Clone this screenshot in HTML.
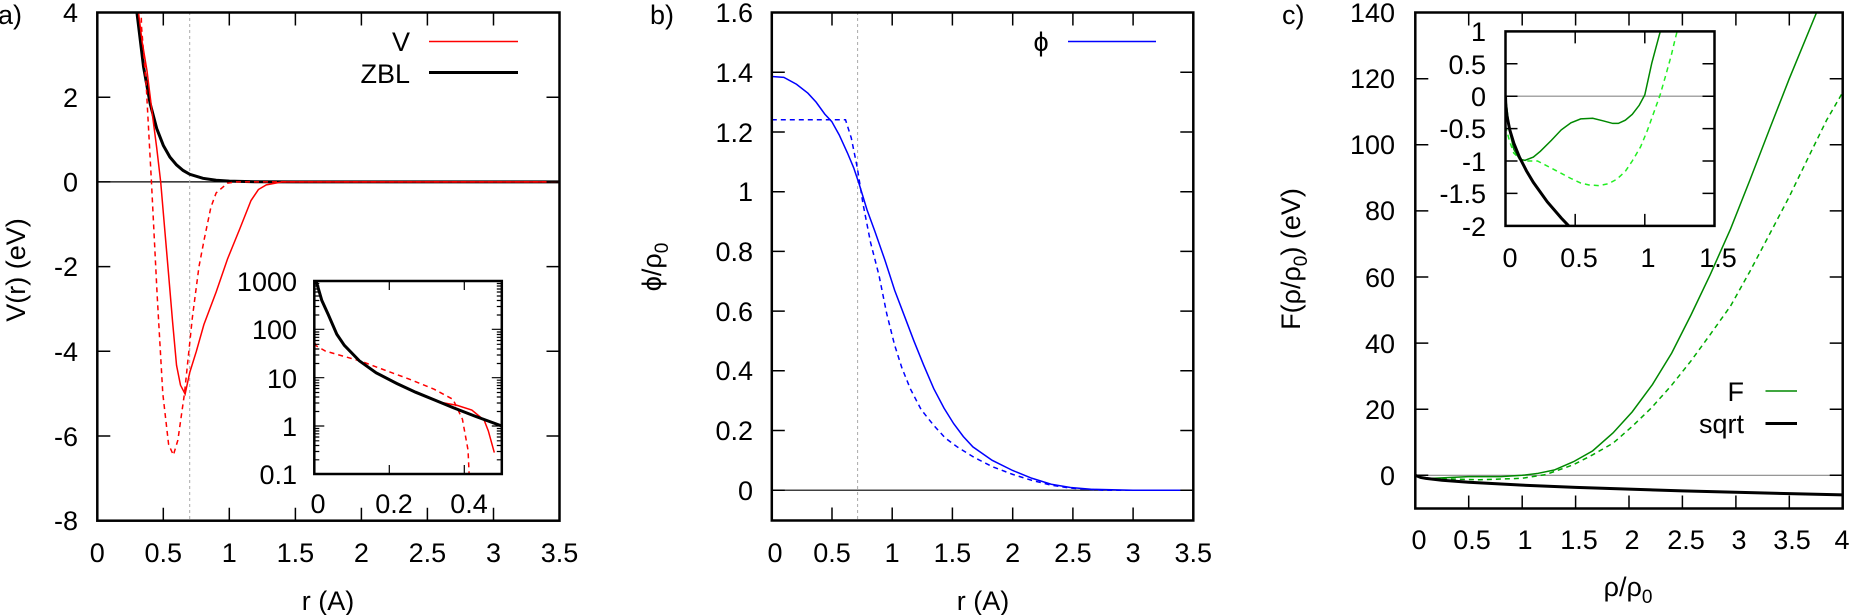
<!DOCTYPE html>
<html><head><meta charset="utf-8"><style>
html,body{margin:0;padding:0;background:#fff;}
svg{display:block;font-family:"Liberation Sans",sans-serif;}
.t{font-size:27px;fill:#000;}
.ns{vector-effect:non-scaling-stroke;fill:none;}
</style></head><body>
<svg width="1850" height="615" viewBox="0 0 1850 615" xmlns="http://www.w3.org/2000/svg">
<defs>
<clipPath id="ca"><rect x="97.3" y="12.5" width="462.2" height="508.2"/></clipPath>
<clipPath id="cai"><rect x="314.3" y="281" width="187.5" height="193"/></clipPath>
<clipPath id="cb"><rect x="771.8" y="12.5" width="421.5" height="508"/></clipPath>
<clipPath id="cc"><rect x="1415.3" y="12.5" width="427.4" height="496"/></clipPath>
<clipPath id="cci"><rect x="1505.5" y="31.4" width="209" height="194.5"/></clipPath>
</defs>

<!-- ===== Panel a ===== -->
<text class="t" x="-2" y="24">a)</text>
<g clip-path="url(#ca)">
<line x1="97" y1="181.9" x2="560" y2="181.9" stroke="#000" stroke-width="1.2"/>
<line x1="189.7" y1="12" x2="189.7" y2="521" stroke="#aaa" stroke-width="1" stroke-dasharray="3,3"/>
<g transform="translate(97.3,181.9) scale(132.06,-42.35)">
<polyline class="ns" stroke="#000" stroke-width="3" points="0.28,4.66 0.3,4 0.35,2.72 0.4,1.85 0.45,1.26 0.5,0.86 0.55,0.585 0.6,0.4 0.65,0.27 0.7,0.18 0.8,0.085 0.9,0.039 1.0,0.018 1.2,0.004 1.5,0.0004 3.5,0"/>
<polyline class="ns" stroke="#f00" stroke-width="1.5" points="0.3,4.3 0.34,3.3 0.376,2.63 0.42,1.52 0.45,0.8 0.48,0 0.51,-1.1 0.54,-2.19 0.57,-3.3 0.6,-4.33 0.63,-4.8 0.665,-5.01 0.7,-4.5 0.75,-4.0 0.807,-3.37 0.9,-2.6 0.986,-1.82 1.08,-1.1 1.164,-0.44 1.22,-0.18 1.28,-0.07 1.4,0 3.5,0"/>
<polyline class="ns" stroke="#f00" stroke-width="1.5" stroke-dasharray="5,4" points="0.33,4.3 0.335,3.66 0.37,2.3 0.41,0 0.453,-2.66 0.496,-5.0 0.54,-6.2 0.576,-6.45 0.61,-6.1 0.66,-5.0 0.72,-3.2 0.77,-2.0 0.81,-1.35 0.86,-0.6 0.9,-0.26 0.986,-0.03 1.05,0 3.5,0"/>
</g>
</g>
<rect x="97.3" y="12.5" width="462.2" height="508.2" fill="none" stroke="#000" stroke-width="2.5"/>
<g stroke="#000" stroke-width="1.5">
<path d="M163.3 520.7v-13M229.3 520.7v-13M295.4 520.7v-13M361.4 520.7v-13M427.4 520.7v-13M493.5 520.7v-13M163.3 12.5v13M229.3 12.5v13M295.4 12.5v13M361.4 12.5v13M427.4 12.5v13M493.5 12.5v13"/>
<path d="M97.3 97.2h13M97.3 181.9h13M97.3 266.6h13M97.3 351.3h13M97.3 436h13M559.5 97.2h-13M559.5 181.9h-13M559.5 266.6h-13M559.5 351.3h-13M559.5 436h-13"/>
</g>
<g class="t" text-anchor="end">
<text x="78" y="22">4</text><text x="78" y="107">2</text><text x="78" y="191.5">0</text><text x="78" y="276">-2</text><text x="78" y="361">-4</text><text x="78" y="446">-6</text><text x="78" y="530">-8</text>
</g>
<g class="t" text-anchor="middle">
<text x="97.3" y="562">0</text><text x="163.3" y="562">0.5</text><text x="229.3" y="562">1</text><text x="295.4" y="562">1.5</text><text x="361.4" y="562">2</text><text x="427.4" y="562">2.5</text><text x="493.5" y="562">3</text><text x="559.5" y="562">3.5</text>
<text x="328" y="610">r (A)</text>
<text transform="translate(25,270) rotate(-90)">V(r) (eV)</text>
</g>
<!-- legend a -->
<text class="t" x="410" y="51" text-anchor="end">V</text>
<line x1="429" y1="41.5" x2="518" y2="41.5" stroke="#f00" stroke-width="1.5"/>
<text class="t" x="410" y="83" text-anchor="end">ZBL</text>
<line x1="429" y1="72.5" x2="518" y2="72.5" stroke="#000" stroke-width="3"/>

<!-- inset a -->
<rect x="314.3" y="281" width="187.5" height="193" fill="#fff"/>
<g clip-path="url(#cai)">
<g transform="translate(314.3,426) scale(375,-48.3)">
<polyline class="ns" stroke="#f00" stroke-width="1.5" stroke-dasharray="5,4" points="0,1.9 0.003,1.67 0.03,1.55 0.125,1.34 0.18,1.18 0.25,0.98 0.32,0.76 0.37,0.55 0.395,0.14 0.41,-0.5 0.414,-1.2"/>
<polyline class="ns" stroke="#f00" stroke-width="1.5" points="0.33,0.5 0.38,0.43 0.42,0.33 0.453,0.12 0.464,-0.1 0.48,-0.55"/>
<polyline class="ns" stroke="#000" stroke-width="3" points="0,3.05 0.005,3 0.02,2.6 0.037,2.31 0.06,1.9 0.08,1.67 0.12,1.35 0.165,1.1 0.22,0.88 0.27,0.7 0.32,0.54 0.37,0.38 0.43,0.2 0.5,0"/>
</g>
</g>
<rect x="314.3" y="281" width="187.5" height="193" fill="none" stroke="#000" stroke-width="2.5"/>
<g stroke="#000" stroke-width="1.2">
<path d="M389.3 474v-9M464.3 474v-9M389.3 281v9M464.3 281v9"/>
<path id="logt" d="M314.3 281h10M314.3 329.3h10M314.3 377.7h10M314.3 426h10M314.3 474h10M314.3 315h5M314.3 306.5h5M314.3 300.5h5M314.3 296h5M314.3 292h5M314.3 289h5M314.3 286h5M314.3 283.5h5M314.3 363.5h5M314.3 355h5M314.3 349h5M314.3 344.3h5M314.3 340.5h5M314.3 337.3h5M314.3 334.5h5M314.3 332h5M314.3 411.5h5M314.3 403h5M314.3 397h5M314.3 392.5h5M314.3 388.5h5M314.3 385.5h5M314.3 382.8h5M314.3 380.2h5M314.3 459.8h5M314.3 451.5h5M314.3 445.5h5M314.3 440.8h5M314.3 437h5M314.3 433.8h5M314.3 431h5M314.3 428.5h5"/>
<use href="#logt" transform="translate(816.1,0) scale(-1,1)"/>
</g>
<g class="t" text-anchor="end">
<text x="297" y="291">1000</text><text x="297" y="339">100</text><text x="297" y="388">10</text><text x="297" y="436">1</text><text x="297" y="484">0.1</text>
</g>
<g class="t" text-anchor="middle">
<text x="318" y="513">0</text><text x="394" y="513">0.2</text><text x="469" y="513">0.4</text>
</g>

<!-- ===== Panel b ===== -->
<text class="t" x="650" y="24">b)</text>
<g clip-path="url(#cb)">
<line x1="771" y1="490.2" x2="1194" y2="490.2" stroke="#000" stroke-width="1.2"/>
<line x1="857.6" y1="12" x2="857.6" y2="521" stroke="#aaa" stroke-width="1" stroke-dasharray="3,3"/>
<g transform="translate(771.8,490.2) scale(120.43,-298.5)">
<polyline class="ns" stroke="#00f" stroke-width="1.5" points="0,1.386 0.1,1.383 0.205,1.36 0.3,1.33 0.368,1.30 0.44,1.26 0.498,1.235 0.56,1.19 0.628,1.13 0.68,1.08 0.726,1.025 0.79,0.94 0.856,0.867 0.94,0.77 1.02,0.67 1.1,0.585 1.18,0.50 1.26,0.42 1.345,0.34 1.43,0.275 1.51,0.223 1.59,0.18 1.67,0.145 1.83,0.1 2.0,0.066 2.16,0.04 2.32,0.02 2.48,0.009 2.65,0.003 3.0,0 3.5,0"/>
<polyline class="ns" stroke="#00f" stroke-width="1.5" stroke-dasharray="5,4" points="0,1.241 0.612,1.241 0.66,1.18 0.71,1.08 0.757,0.96 0.82,0.83 0.89,0.72 0.955,0.59 1.02,0.486 1.08,0.41 1.15,0.34 1.24,0.27 1.345,0.217 1.44,0.175 1.54,0.145 1.68,0.11 1.83,0.079 2.0,0.053 2.16,0.033 2.32,0.017 2.48,0.007 2.75,0 3.5,0"/>
</g>
</g>
<rect x="771.8" y="12.5" width="421.5" height="508" fill="none" stroke="#000" stroke-width="2.5"/>
<g stroke="#000" stroke-width="1.5">
<path d="M832 520.5v-13M892.2 520.5v-13M952.4 520.5v-13M1012.7 520.5v-13M1072.9 520.5v-13M1133.1 520.5v-13M832 12.5v13M892.2 12.5v13M952.4 12.5v13M1012.7 12.5v13M1072.9 12.5v13M1133.1 12.5v13"/>
<path d="M771.8 72.3h13M771.8 132h13M771.8 191.7h13M771.8 251.4h13M771.8 311.1h13M771.8 370.8h13M771.8 430.5h13M771.8 490.2h13M1193.3 72.3h-13M1193.3 132h-13M1193.3 191.7h-13M1193.3 251.4h-13M1193.3 311.1h-13M1193.3 370.8h-13M1193.3 430.5h-13M1193.3 490.2h-13"/>
</g>
<g class="t" text-anchor="end">
<text x="753" y="22">1.6</text><text x="753" y="82">1.4</text><text x="753" y="142">1.2</text><text x="753" y="201">1</text><text x="753" y="261">0.8</text><text x="753" y="321">0.6</text><text x="753" y="380">0.4</text><text x="753" y="440">0.2</text><text x="753" y="500">0</text>
</g>
<g class="t" text-anchor="middle">
<text x="775" y="562">0</text><text x="832" y="562">0.5</text><text x="892.2" y="562">1</text><text x="952.4" y="562">1.5</text><text x="1012.7" y="562">2</text><text x="1072.9" y="562">2.5</text><text x="1133.1" y="562">3</text><text x="1193.3" y="562">3.5</text>
<text x="983" y="610">r (A)</text>
<text transform="translate(661,267) rotate(-90)">ϕ/ρ<tspan font-size="19" dy="7">0</tspan></text>
</g>
<text class="t" x="1041" y="51" text-anchor="middle">ϕ</text>
<line x1="1068" y1="41.5" x2="1156" y2="41.5" stroke="#00f" stroke-width="1.5"/>

<!-- ===== Panel c ===== -->
<text class="t" x="1282" y="24">c)</text>
<g clip-path="url(#cc)">
<line x1="1415" y1="475.3" x2="1843" y2="475.3" stroke="#888" stroke-width="1.2"/>
<g transform="translate(1415.3,475.3) scale(106.85,-3.305)">
<polyline class="ns" stroke="#0a0" stroke-width="1.5" stroke-dasharray="5,4" points="0,0 0.1,-0.9 0.6,-1.35 1,-0.9 1.22,0.2 1.48,3.2 1.66,6.2 1.85,9.7 2.03,14.8 2.21,20.4 2.4,27.3 2.58,34.6 2.76,42.6 2.95,51.2 3.13,61.6 3.31,72.6 3.5,84.3 3.68,96.3 3.85,107.5 3.99,115.3"/>
<polyline class="ns" stroke="#080" stroke-width="1.5" points="0,0 0.1,-1 0.5,-0.4 0.8,-0.4 1,0 1.15,0.6 1.3,1.6 1.48,4.1 1.66,7.4 1.85,12.8 2.03,19.2 2.22,27.5 2.4,37 2.58,48.5 2.76,60.7 2.95,74.5 3.13,89.2 3.31,104.3 3.5,120 3.755,140 3.8,144"/>
<polyline class="ns" stroke="#000" stroke-width="3" points="0,0 0.05,-0.66 0.1,-0.94 0.25,-1.49 0.5,-2.1 1,-2.97 1.5,-3.64 2,-4.2 2.5,-4.7 3,-5.14 3.5,-5.56 4,-5.94"/>
</g>
</g>
<rect x="1415.3" y="12.5" width="427.4" height="496" fill="none" stroke="#000" stroke-width="2.5"/>
<g stroke="#000" stroke-width="1.5">
<path d="M1468.7 508.5v-13M1522.2 508.5v-13M1575.6 508.5v-13M1629 508.5v-13M1682.4 508.5v-13M1735.9 508.5v-13M1789.3 508.5v-13M1468.7 12.5v13M1522.2 12.5v13M1575.6 12.5v13M1629 12.5v13M1682.4 12.5v13M1735.9 12.5v13M1789.3 12.5v13"/>
<path d="M1415.3 78.7h13M1415.3 144.8h13M1415.3 210.9h13M1415.3 277h13M1415.3 343.1h13M1415.3 409.2h13M1415.3 475.3h13M1842.7 78.7h-13M1842.7 144.8h-13M1842.7 210.9h-13M1842.7 277h-13M1842.7 343.1h-13M1842.7 409.2h-13M1842.7 475.3h-13"/>
</g>
<g class="t" text-anchor="end">
<text x="1395" y="22">140</text><text x="1395" y="88">120</text><text x="1395" y="154">100</text><text x="1395" y="220">80</text><text x="1395" y="287">60</text><text x="1395" y="353">40</text><text x="1395" y="419">20</text><text x="1395" y="485">0</text>
</g>
<g class="t" text-anchor="middle">
<text x="1419" y="549">0</text><text x="1472" y="549">0.5</text><text x="1525" y="549">1</text><text x="1579" y="549">1.5</text><text x="1632" y="549">2</text><text x="1686" y="549">2.5</text><text x="1739" y="549">3</text><text x="1792" y="549">3.5</text><text x="1842" y="549">4</text>
<text x="1628" y="596">ρ/ρ<tspan font-size="19" dy="7">0</tspan></text>
<text transform="translate(1300,259) rotate(-90)">F(ρ/ρ<tspan font-size="19" dy="7">0</tspan><tspan dy="-7">) (eV)</tspan></text>
</g>
<text class="t" x="1744" y="401" text-anchor="end">F</text>
<line x1="1765.5" y1="391" x2="1797" y2="391" stroke="#080" stroke-width="1.5"/>
<text class="t" x="1744" y="433" text-anchor="end">sqrt</text>
<line x1="1765.5" y1="423.5" x2="1797" y2="423.5" stroke="#000" stroke-width="3"/>

<!-- inset c -->
<rect x="1505.5" y="31.4" width="209" height="194.5" fill="#fff"/>
<g clip-path="url(#cci)">
<line x1="1505" y1="96.2" x2="1715" y2="96.2" stroke="#888" stroke-width="1.2"/>
<g transform="translate(1505.5,96.2) scale(139.3,-64.8)">
<polyline class="ns" stroke="#2e2" stroke-width="1.5" stroke-dasharray="5,4" points="0,-0.46 0.03,-0.7 0.06,-0.88 0.12,-1.0 0.23,-1.0 0.32,-1.1 0.4,-1.19 0.47,-1.27 0.54,-1.34 0.6,-1.37 0.67,-1.38 0.74,-1.35 0.8,-1.28 0.86,-1.16 0.91,-1.0 0.97,-0.78 1.02,-0.52 1.07,-0.22 1.11,0.02 1.15,0.32 1.19,0.63 1.22,0.9 1.25,1.15"/>
<polyline class="ns" stroke="#080" stroke-width="1.5" points="0,0 0.03,-0.55 0.06,-0.82 0.1,-0.97 0.14,-0.99 0.2,-0.94 0.25,-0.85 0.33,-0.68 0.4,-0.52 0.47,-0.41 0.54,-0.35 0.626,-0.34 0.7,-0.38 0.77,-0.42 0.81,-0.42 0.86,-0.37 0.91,-0.28 0.96,-0.14 1.0,0.02 1.05,0.51 1.08,0.75 1.11,0.99 1.13,1.2"/>
<polyline class="ns" stroke="#000" stroke-width="3" points="0,0 0.002,-0.13 0.01,-0.297 0.03,-0.514 0.06,-0.727 0.1,-0.94 0.15,-1.15 0.2,-1.33 0.3,-1.63 0.4,-1.88 0.48,-2.06"/>
</g>
</g>
<rect x="1505.5" y="31.4" width="209" height="194.5" fill="none" stroke="#000" stroke-width="2.5"/>
<g stroke="#000" stroke-width="1.5">
<path d="M1575.2 225.9v-12M1644.8 225.9v-12M1575.2 31.4v12M1644.8 31.4v12"/>
<path d="M1505.5 63.8h12M1505.5 96.2h12M1505.5 128.6h12M1505.5 161h12M1505.5 193.4h12M1714.5 63.8h-12M1714.5 96.2h-12M1714.5 128.6h-12M1714.5 161h-12M1714.5 193.4h-12"/>
</g>
<g class="t" text-anchor="end">
<text x="1486" y="41">1</text><text x="1486" y="74">0.5</text><text x="1486" y="106">0</text><text x="1486" y="138">-0.5</text><text x="1486" y="171">-1</text><text x="1486" y="203">-1.5</text><text x="1486" y="236">-2</text>
</g>
<g class="t" text-anchor="middle">
<text x="1510" y="267">0</text><text x="1579" y="267">0.5</text><text x="1648" y="267">1</text><text x="1718" y="267">1.5</text>
</g>
</svg>
</body></html>
